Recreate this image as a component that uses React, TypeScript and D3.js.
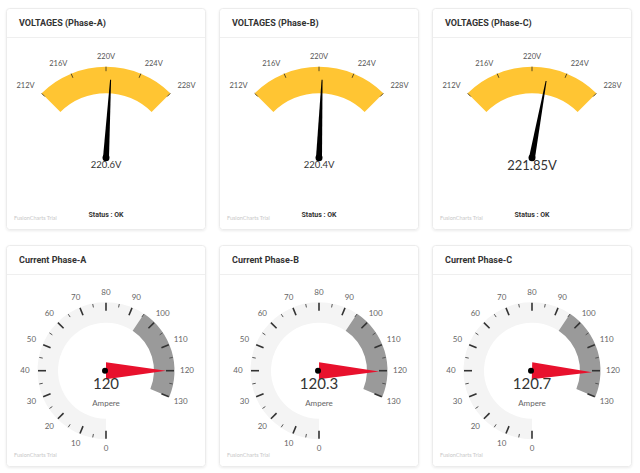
import React, { useEffect, useRef } from "react";
import * as d3 from "d3";

// voltage gauges (top row)
const voltagePhases = ["Phase-A", "Phase-B", "Phase-C"];
const voltageValues = [220.6, 220.4, 221.85];
const voltageTicks = [212, 216, 220, 224, 228];
const voltageStatus = ["OK", "OK", "OK"];

// current gauges (bottom row)
const currentPhases = ["Phase-A", "Phase-B", "Phase-C"];
const currentValues = [120, 120.3, 120.7];
const currentMajorTicks = [0, 10, 20, 30, 40, 50, 60, 70, 80, 90, 100, 110, 120, 130];
const currentMinorTicks = [5, 15, 25, 35, 45, 55, 65, 75, 85, 95, 105, 115, 125];
const currentBandLimits = [0, 95, 130];
const currentUnit = "Ampere";

const cardX = [6, 219, 432];
const cardW = 200;
const cardH = 222;
const rowTop = [8, 245];
const valueFontSizes = [9.5, 9.5, 13];
const bandColors = ["#f4f4f4", "#9a9a9a"];

const titleFont = "Roboto, sans-serif";
const gaugeFont = "Lato, 'Noto Sans', sans-serif";

const polar = (a: number, r: number) => [r * Math.sin(a), -r * Math.cos(a)];

export default function App() {
    const ref = useRef<SVGSVGElement>(null);

    useEffect(() => {
        const svg = d3.select(ref.current);
        svg.selectAll("*").remove();

        const defs = svg.append("defs");
        const f = defs.append("filter").attr("id", "shadow").attr("x", "-5%").attr("y", "-5%").attr("width", "110%").attr("height", "110%");
        f.append("feDropShadow").attr("dx", 0).attr("dy", 1).attr("stdDeviation", 1.2).attr("flood-color", "#000").attr("flood-opacity", 0.08);

        // card frame with header
        const card = (x: number, top: number, title: string) => {
            const g = svg.append("g").attr("transform", `translate(${x},${top})`);
            g.append("rect")
                .attr("x", 0.5).attr("y", 0.5)
                .attr("width", cardW - 1).attr("height", cardH - 1)
                .attr("rx", 3)
                .attr("fill", "#fff")
                .attr("stroke", "#ececec")
                .attr("filter", "url(#shadow)");
            g.append("line")
                .attr("x1", 1).attr("x2", cardW - 1)
                .attr("y1", 29.5).attr("y2", 29.5)
                .attr("stroke", "#efefef");
            g.append("text")
                .attr("x", 13).attr("y", 16)
                .attr("dominant-baseline", "middle")
                .attr("font-family", titleFont)
                .attr("font-size", 9)
                .attr("font-weight", 700)
                .attr("fill", "#333")
                .text(title);
            g.append("text")
                .attr("x", 8).attr("y", 212)
                .attr("font-family", gaugeFont)
                .attr("font-size", 5.5)
                .attr("fill", "#c8c8c8")
                .text("FusionCharts Trial");
            return g;
        };

        // voltage gauges
        const vScale = d3.scaleLinear().domain([212, 228]).range([-Math.PI / 4, Math.PI / 4]);
        const vArc: any = d3.arc();

        voltageValues.forEach((value, i) => {
            const g = card(cardX[i], rowTop[0], `VOLTAGES (${voltagePhases[i]})`);
            const p = g.append("g").attr("transform", `translate(${cardW / 2},149.7)`);

            p.append("path")
                .attr("d", vArc({
                    innerRadius: 64.5,
                    outerRadius: 91,
                    startAngle: vScale(voltageTicks[0]),
                    endAngle: vScale(voltageTicks[voltageTicks.length - 1]),
                }))
                .attr("fill", "#FFC533");

            voltageTicks.forEach(t => {
                const a = vScale(t);
                const [x1, y1] = polar(a, 86.5);
                const [x2, y2] = polar(a, 91);
                p.append("line")
                    .attr("x1", x1).attr("y1", y1).attr("x2", x2).attr("y2", y2)
                    .attr("stroke", "#5a4a20").attr("stroke-width", 1);
                const [lx, ly] = polar(a, 101);
                const s = Math.sin(a);
                p.append("text")
                    .attr("x", lx).attr("y", ly)
                    .attr("text-anchor", s < -0.01 ? "end" : s > 0.01 ? "start" : "middle")
                    .attr("dominant-baseline", "middle")
                    .attr("font-family", gaugeFont)
                    .attr("font-size", 7.5)
                    .attr("fill", "#555")
                    .text(`${t}V`);
            });

            const deg = (vScale(value) * 180) / Math.PI;
            p.append("path")
                .attr("d", "M-3,0 L-0.5,-78 L0.5,-78 L3,0 Z")
                .attr("transform", `rotate(${deg})`)
                .attr("fill", "#000");
            p.append("circle").attr("r", 3.5).attr("fill", "#000");

            const fs = valueFontSizes[i];
            p.append("text")
                .attr("x", 0).attr("y", 3 + fs / 2)
                .attr("text-anchor", "middle")
                .attr("dominant-baseline", "middle")
                .attr("font-family", gaugeFont)
                .attr("font-size", fs)
                .attr("fill", "#333")
                .text(`${value}V`);

            g.append("text")
                .attr("x", cardW / 2).attr("y", 207)
                .attr("text-anchor", "middle")
                .attr("dominant-baseline", "middle")
                .attr("font-family", titleFont)
                .attr("font-size", 7)
                .attr("font-weight", 700)
                .attr("fill", "#333")
                .text(`Status : ${voltageStatus[i]}`);
        });

        // current gauges
        const cScale = d3.scaleLinear()
            .domain([0, 130])
            .range([-Math.PI, -Math.PI + (130 / 40) * (Math.PI / 2)]);
        const cArc: any = d3.arc();

        currentValues.forEach((value, i) => {
            const g = card(cardX[i], rowTop[1], `Current ${currentPhases[i]}`);
            const p = g.append("g").attr("transform", `translate(${cardW / 2},125.7)`);

            d3.pairs(currentBandLimits).forEach(([from, to], k) => {
                p.append("path")
                    .attr("d", cArc({ innerRadius: 48, outerRadius: 68.5, startAngle: cScale(from), endAngle: cScale(to) }))
                    .attr("fill", bandColors[k]);
            });

            currentMinorTicks.forEach(t => {
                const a = cScale(t);
                const [x1, y1] = polar(a, 64.5);
                const [x2, y2] = polar(a, 68);
                p.append("line")
                    .attr("x1", x1).attr("y1", y1).attr("x2", x2).attr("y2", y2)
                    .attr("stroke", "#555").attr("stroke-width", 1);
            });

            currentMajorTicks.forEach(t => {
                const a = cScale(t);
                const [x1, y1] = polar(a, 60);
                const [x2, y2] = polar(a, 68);
                p.append("line")
                    .attr("x1", x1).attr("y1", y1).attr("x2", x2).attr("y2", y2)
                    .attr("stroke", "#333").attr("stroke-width", 1.6);
                const [lx, ly] = polar(a, 78 + 3 * Math.abs(Math.sin(a)));
                p.append("text")
                    .attr("x", lx).attr("y", ly)
                    .attr("text-anchor", "middle")
                    .attr("dominant-baseline", "middle")
                    .attr("font-family", gaugeFont)
                    .attr("font-size", 8)
                    .attr("fill", "#666")
                    .text(t);
            });

            const deg = ((cScale(value) - Math.PI / 2) * 180) / Math.PI;
            p.append("path")
                .attr("d", "M0,-8.5 L60,0 L0,8.5 Z")
                .attr("transform", `rotate(${deg})`)
                .attr("fill", "#E8112D");
            p.append("circle").attr("cx", -1).attr("r", 3).attr("fill", "#000");

            p.append("text")
                .attr("x", 0).attr("y", 15)
                .attr("text-anchor", "middle")
                .attr("dominant-baseline", "middle")
                .attr("font-family", gaugeFont)
                .attr("font-size", 15)
                .attr("fill", "#333")
                .text(value);
            p.append("text")
                .attr("x", 0).attr("y", 33)
                .attr("text-anchor", "middle")
                .attr("dominant-baseline", "middle")
                .attr("font-family", gaugeFont)
                .attr("font-size", 8)
                .attr("fill", "#666")
                .text(currentUnit);
        });
    }, []);

    return (
        <svg
            ref={ref}
            width={640}
            height={473}
            style={{ position: "absolute", left: 0, top: 0, background: "#fff" }}
        />
    );
}
